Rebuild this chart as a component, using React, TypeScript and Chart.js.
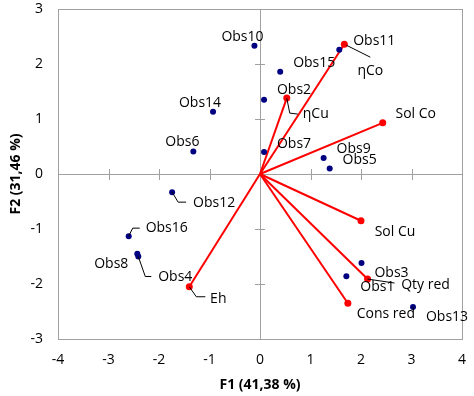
import { useEffect, useRef } from 'react';
import { Chart, registerables } from 'chart.js';
Chart.register(...registerables);

const obsNames = ['Obs1', 'Obs2', 'Obs3', 'Obs4', 'Obs5', 'Obs6', 'Obs7', 'Obs8', 'Obs9', 'Obs10', 'Obs11', 'Obs12', 'Obs13', 'Obs14', 'Obs15', 'Obs16'];
const obsF1 = [1.71, 0.08, 2.01, -2.41, 1.38, -1.32, 0.08, -2.43, 1.26, -0.11, 1.57, -1.74, 3.03, -0.93, 0.40, -2.60];
const obsF2 = [-1.86, 1.35, -1.62, -1.50, 0.10, 0.41, 0.40, -1.45, 0.29, 2.33, 2.26, -0.33, -2.42, 1.13, 1.86, -1.13];

const varNames = ['ηCo', 'ηCu', 'Sol Co', 'Sol Cu', 'Qty red', 'Cons red', 'Eh'];
const varF1 = [1.67, 0.53, 2.43, 2.00, 2.13, 1.74, -1.40];
const varF2 = [2.36, 1.38, 0.93, -0.85, -1.91, -2.35, -2.05];

const xTicks = [-4, -3, -2, -1, 0, 1, 2, 3, 4];
const yTicks = [-3, -2, -1, 0, 1, 2, 3];

// label placement (pixel offsets of text centre from the point) – layout only
const labelOffset: Record<string, [number, number]> = {
  Obs1: [31, 11], Obs2: [30, -10], Obs3: [30, 10], Obs4: [37, 21], Obs5: [30, -8], Obs6: [-11, -9],
  Obs7: [30, -8], Obs8: [-26, 10], Obs9: [30, -9], Obs10: [-12, -9], Obs11: [35, -9], Obs12: [42, 11],
  Obs13: [34, 10], Obs14: [-13, -9], Obs15: [34, -9], Obs16: [38, -8],
  'ηCo': [26, 27], 'ηCu': [29, 16], 'Sol Co': [33, -9], 'Sol Cu': [34, 11], 'Qty red': [58, 6],
  'Cons red': [38, 11], Eh: [29, 12],
};
const leaders: Record<string, [number, number][]> = {
  'ηCo': [[2, 1], [26, 13]],
  'ηCu': [[0, 0], [3, 15], [11, 16]],
  Obs12: [[0, 0], [6, 10], [14, 10]],
  Obs16: [[0, 0], [4, -8], [11, -8]],
  Obs4: [[0, 0], [7, 20], [13, 20]],
  Eh: [[0, 0], [7, 10], [16, 10]],
  'Qty red': [[0, 0], [27, 4]],
};

const FONT = "'Open Sans', sans-serif";
const GRAY = '#a0a0a0';

const overlay = {
  id: 'overlay',
  beforeDatasetsDraw(chart: any) {
    const { ctx, chartArea: a, scales } = chart;
    const x0 = scales.x.getPixelForValue(0);
    const y0 = scales.y.getPixelForValue(0);
    ctx.save();
    ctx.strokeStyle = GRAY;
    ctx.lineWidth = 1;
    ctx.strokeRect(Math.round(a.left) + 0.5, Math.round(a.top) + 0.5, Math.round(a.right - a.left), Math.round(a.bottom - a.top));
    ctx.beginPath();
    ctx.moveTo(a.left, Math.round(y0) + 0.5);
    ctx.lineTo(a.right, Math.round(y0) + 0.5);
    ctx.moveTo(Math.round(x0) + 0.5, a.top);
    ctx.lineTo(Math.round(x0) + 0.5, a.bottom);
    xTicks.forEach((t) => {
      if (t === xTicks[0] || t === xTicks[xTicks.length - 1]) return;
      const px = Math.round(scales.x.getPixelForValue(t)) + 0.5;
      ctx.moveTo(px, y0 - 5);
      ctx.lineTo(px, y0 + 6);
    });
    yTicks.forEach((t) => {
      if (t === yTicks[0] || t === yTicks[yTicks.length - 1]) return;
      const py = Math.round(scales.y.getPixelForValue(t)) + 0.5;
      ctx.moveTo(x0 - 5, py);
      ctx.lineTo(x0 + 5, py);
    });
    ctx.stroke();
    ctx.restore();
  },
  afterDatasetsDraw(chart: any) {
    const { ctx, scales } = chart;
    ctx.save();
    ctx.font = `14px ${FONT}`;
    ctx.fillStyle = '#000';
    ctx.textAlign = 'center';
    ctx.textBaseline = 'middle';
    const pts: [string, number, number][] = [];
    obsNames.forEach((n, i) => pts.push([n, obsF1[i], obsF2[i]]));
    varNames.forEach((n, i) => pts.push([n, varF1[i], varF2[i]]));
    pts.forEach(([n, vx, vy]) => {
      const px = scales.x.getPixelForValue(vx);
      const py = scales.y.getPixelForValue(vy);
      const l = leaders[n];
      if (l) {
        ctx.strokeStyle = '#000';
        ctx.lineWidth = 1;
        ctx.beginPath();
        l.forEach(([dx, dy], k) => (k === 0 ? ctx.moveTo(px + dx, py + dy) : ctx.lineTo(px + dx, py + dy)));
        ctx.stroke();
      }
      const o = labelOffset[n] || [0, 0];
      ctx.fillText(n, px + o[0], py + o[1]);
    });
    ctx.restore();
  },
};

export default function App() {
  const ref = useRef<HTMLCanvasElement>(null);
  useEffect(() => {
    const varSets = varNames.map((n, i) => ({
      label: n,
      data: [{ x: 0, y: 0 }, { x: varF1[i], y: varF2[i] }],
      showLine: true,
      borderColor: '#ff0000',
      backgroundColor: '#ff0000',
      borderWidth: 2,
      pointRadius: [0, 3.5],
      pointBorderWidth: 0,
      order: 2,
    }));
    const chart = new Chart(ref.current!, {
      type: 'scatter',
      data: {
        datasets: [
          {
            label: 'Obs',
            data: obsNames.map((_, i) => ({ x: obsF1[i], y: obsF2[i] })),
            backgroundColor: '#000080',
            borderWidth: 0,
            pointRadius: 3,
            order: 1,
          },
          ...varSets,
        ],
      },
      options: {
        animation: false,
        responsive: true,
        maintainAspectRatio: false,
        layout: { padding: { top: 9, right: 12, left: 0, bottom: 0 } },
        plugins: { legend: { display: false }, tooltip: { enabled: false } },
        scales: {
          x: {
            type: 'linear',
            min: -4,
            max: 4,
            afterBuildTicks: (s: any) => { s.ticks = xTicks.map((v) => ({ value: v })); },
            afterFit: (s: any) => { s.height = 57; s.paddingLeft = 0; s.paddingRight = 0; },
            grid: { display: false, drawTicks: false },
            border: { display: false },
            ticks: { font: { family: FONT, size: 14 }, color: '#000', padding: 13 },
            title: { display: true, text: 'F1 (41,38 %)', color: '#000', font: { family: FONT, size: 14, weight: 'bold' }, padding: { top: 0, bottom: 3 } },
          },
          y: {
            type: 'linear',
            min: -3,
            max: 3,
            afterBuildTicks: (s: any) => { s.ticks = yTicks.map((v) => ({ value: v })); },
            afterFit: (s: any) => { s.width = 58; s.paddingTop = 0; s.paddingBottom = 0; },
            grid: { display: false, drawTicks: false },
            border: { display: false },
            ticks: { font: { family: FONT, size: 14 }, color: '#000', padding: 15 },
            title: { display: true, text: 'F2 (31,46 %)', color: '#000', font: { family: FONT, size: 14, weight: 'bold' }, padding: { top: 8, bottom: 0 } },
          },
        },
      },
      plugins: [overlay],
    } as any);
    return () => chart.destroy();
  }, []);
  return (
    <div style={{ position: 'fixed', left: 0, top: 0, width: 474, height: 396 }}>
      <canvas ref={ref} />
    </div>
  );
}
